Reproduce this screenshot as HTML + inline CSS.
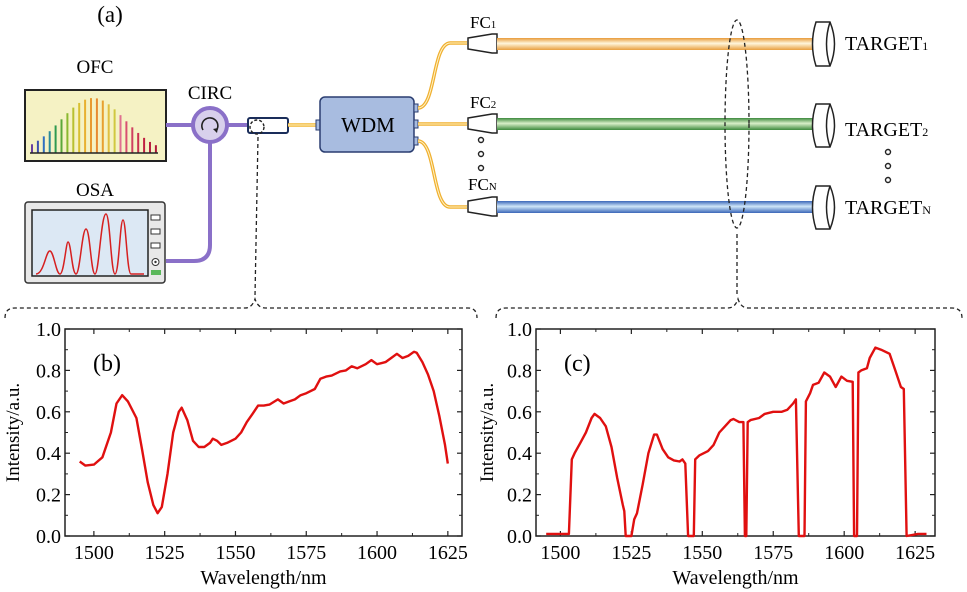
<!DOCTYPE html>
<html><head><meta charset="utf-8"><style>
html,body{margin:0;padding:0;background:#fff}
svg{display:block;font-family:"Liberation Serif",serif}
</style></head><body>
<svg id="fig" width="967" height="592" viewBox="0 0 967 592">
<defs>
<linearGradient id="gOr" x1="0" y1="0" x2="0" y2="1"><stop offset="0" stop-color="#e89a3a"/><stop offset=".45" stop-color="#fff6dc"/><stop offset="1" stop-color="#e8a040"/></linearGradient>
<linearGradient id="gGr" x1="0" y1="0" x2="0" y2="1"><stop offset="0" stop-color="#3d8a3d"/><stop offset=".45" stop-color="#d8efc8"/><stop offset="1" stop-color="#3d8a3d"/></linearGradient>
<linearGradient id="gBl" x1="0" y1="0" x2="0" y2="1"><stop offset="0" stop-color="#3a66b8"/><stop offset=".45" stop-color="#cfe6f8"/><stop offset="1" stop-color="#3a66b8"/></linearGradient>
</defs>
<g>
<text x="110" y="22" font-size="23" text-anchor="middle">(a)</text>
<text x="95" y="73" font-size="19" text-anchor="middle">OFC</text>
<rect x="25" y="90" width="141" height="71" fill="#f5f2c4" stroke="#222" stroke-width="2"/>
<g id="comb"></g>
<line x1="30" y1="153" x2="158" y2="153" stroke="#222" stroke-width="1.5"/>
<text x="95" y="196" font-size="19" text-anchor="middle">OSA</text>
<rect x="25" y="202" width="140" height="81" rx="3" fill="#e8e8e8" stroke="#333" stroke-width="1.5"/>
<rect x="32" y="210" width="116" height="66" fill="#dce8f4" stroke="#222" stroke-width="1.5"/>
<path d="M36,274 C44,274 46,250 50,251 C54,252 56,274 60,274 C64,274 66,242 68,242 C71,242 72,274 76,274 C80,274 82,229 86,229 C90,229 91,274 95,274 C99,274 101,214 106,214 C110,214 111,274 115,274 C119,274 120,220 123,220 C126,220 127,274 131,274 L144,274" fill="none" stroke="#d62020" stroke-width="1.5"/>
<rect x="151" y="215" width="9" height="5" fill="#fff" stroke="#333"/><rect x="151" y="229" width="9" height="5" fill="#fff" stroke="#333"/><rect x="151" y="243" width="9" height="5" fill="#fff" stroke="#333"/>
<circle cx="155.5" cy="262" r="3.5" fill="#fff" stroke="#333"/><circle cx="155.5" cy="262" r="1.2" fill="#333"/>
<rect x="151" y="270" width="10" height="5" fill="#5cb85c"/>
<text x="210" y="99" font-size="19" text-anchor="middle">CIRC</text>
<path d="M166,125 L193,125 M227,125 L248,125 M210,142 L210,245 Q210,261 194,261 L166,261" fill="none" stroke="#8a70c8" stroke-width="4"/>
<circle cx="210" cy="125" r="17" fill="#d8d0ec" stroke="#8a70c8" stroke-width="4"/>
<path d="M203,130 A8,8 0 1 1 216,131" fill="none" stroke="#222" stroke-width="1.6"/><path d="M213,129 L217,133 L218,128Z" fill="#222"/>
<rect x="248" y="118" width="40" height="15" rx="2" fill="#fff" stroke="#1a2d5a" stroke-width="2"/>
<ellipse cx="257" cy="127" rx="7" ry="7" fill="none" stroke="#222" stroke-width="1.4" stroke-dasharray="3,2"/>
<path d="M288,125 L316,125" stroke="#f2b632" stroke-width="3.5"/><path d="M288,125 L316,125" stroke="#fff5d0" stroke-width="1"/>
<rect x="316" y="120" width="5" height="10" fill="#a8bce0" stroke="#2a3d70"/>
<rect x="320" y="97" width="94" height="55" rx="5" fill="#a8bce0" stroke="#2a3d70" stroke-width="1.5"/>
<text x="368" y="132" font-size="21" text-anchor="middle">WDM</text>
<rect x="414" y="104" width="4" height="8" fill="#a8bce0" stroke="#2a3d70"/><rect x="414" y="120" width="4" height="8" fill="#a8bce0" stroke="#2a3d70"/><rect x="414" y="137" width="4" height="8" fill="#a8bce0" stroke="#2a3d70"/>
<g fill="none">
<path d="M418,108 C436,108 432,44 450,43 L467,43 M418,124 L467,124 M418,141 C436,141 432,207 450,207 L467,207" stroke="#f0b030" stroke-width="3.5"/>
<path d="M418,108 C436,108 432,44 450,43 L467,43 M418,124 L467,124 M418,141 C436,141 432,207 450,207 L467,207" stroke="#fff3c8" stroke-width="1"/>
</g>
<g stroke="#222" stroke-width="1.5" fill="#fff">
<path d="M468,38 L492,34 L497,34 L497,53 L492,53 L468,49Z"/><path d="M468,118 L492,114 L497,114 L497,133 L492,133 L468,129Z"/><path d="M468,201 L492,197 L497,197 L497,216 L492,216 L468,212Z"/>
</g>
<rect x="497" y="38" width="323" height="12" fill="url(#gOr)"/>
<rect x="497" y="118" width="323" height="12" fill="url(#gGr)"/>
<rect x="497" y="201" width="323" height="12" fill="url(#gBl)"/>
<g font-size="17">
<text x="470" y="28">FC<tspan font-size="11">1</tspan></text>
<text x="470" y="108">FC<tspan font-size="11">2</tspan></text>
<text x="468" y="190">FC<tspan font-size="11">N</tspan></text>
</g>
<g fill="#fff" stroke="#222" stroke-width="1.4"><circle cx="481" cy="140" r="2.5"/><circle cx="481" cy="154" r="2.5"/><circle cx="481" cy="168" r="2.5"/>
<circle cx="888" cy="152" r="2.5"/><circle cx="888" cy="166" r="2.5"/><circle cx="888" cy="180" r="2.5"/></g>
<g fill="#fff" stroke="#222" stroke-width="1.5">
<path d="M816,22 L830,22 Q839,44 830,66 L816,66 Q809,44 816,22Z"/><path d="M830,22 Q823,44 830,66"/>
<path d="M816,104 L830,104 Q839,125 830,147 L816,147 Q809,125 816,104Z"/><path d="M830,104 Q823,125 830,147"/>
<path d="M816,186 L830,186 Q839,207 830,229 L816,229 Q809,207 816,186Z"/><path d="M830,186 Q823,207 830,229"/>
</g>
<g font-size="20">
<text x="845" y="50">TARGET<tspan font-size="12">1</tspan></text>
<text x="845" y="136">TARGET<tspan font-size="12">2</tspan></text>
<text x="845" y="214">TARGET<tspan font-size="12">N</tspan></text>
</g>
<g fill="none" stroke="#222" stroke-width="1.3" stroke-dasharray="4,3">
<ellipse cx="737" cy="124" rx="12" ry="104"/>
<path d="M737,234 L737,296"/><path d="M258,137 L255,296"/>
<path d="M5,318 Q5,308 15,308 L245,308 Q252,308 255,299 Q258,308 265,308 L468,308 Q477,308 477,318"/>
<path d="M496,318 Q496,308 506,308 L728,308 Q735,308 738,299 Q741,308 748,308 L952,308 Q962,308 962,318"/>
</g>
</g>
<g id="chartB"></g>
<g id="chartC"></g>
</svg>
<script>
const NS="http://www.w3.org/2000/svg";
function mk(parent,tag,attrs,text){const e=document.createElementNS(NS,tag);for(const k in attrs)e.setAttribute(k,attrs[k]);if(text!==undefined)e.textContent=text;parent.appendChild(e);return e;}
(function(){const g=document.getElementById('comb');const cols=['#6a3fa0','#3d4fb0','#2f6fc0','#2a8a9a','#2f9a50','#5aa83a','#8ab830','#b8c030','#d8c030','#e8b030','#e89a30','#e88a30','#e8a030','#e0c040','#d0c840','#e07090','#d85070','#d04060','#c83050','#c02040','#b82040','#b01838'];
for(let i=0;i<22;i++){const x=32+i*5.9;const h=55*Math.exp(-Math.pow((x-93)/45,2));mk(g,'line',{x1:x,y1:153,x2:x,y2:153-h,stroke:cols[i],'stroke-width':2});}})();

const xTicks=[1500,1525,1550,1575,1600,1625];
const yTicks=[0,0.2,0.4,0.6,0.8,1.0];
const yTickLabels=['0.0','0.2','0.4','0.6','0.8','1.0'];
const bWavelength=[1495,1497,1500,1503,1506,1508,1510,1512,1515,1517,1519,1521,1522.5,1524,1526,1528,1530,1531,1533,1535,1537,1539,1541,1542,1543.5,1545,1547,1550,1552,1554,1556,1558,1560,1562,1565,1567,1569,1571,1573,1575,1578,1580,1582,1584,1587,1589,1591,1593,1596,1598,1600,1603,1605,1607,1609,1611,1613,1614,1616,1618,1620,1622,1624,1625];
const bIntensity=[0.36,0.34,0.345,0.38,0.5,0.64,0.68,0.65,0.57,0.42,0.26,0.15,0.11,0.14,0.3,0.5,0.6,0.62,0.56,0.46,0.43,0.43,0.45,0.47,0.46,0.44,0.45,0.47,0.5,0.55,0.59,0.63,0.63,0.635,0.66,0.64,0.65,0.66,0.68,0.69,0.71,0.76,0.77,0.775,0.795,0.8,0.82,0.81,0.83,0.85,0.83,0.84,0.86,0.88,0.86,0.87,0.89,0.885,0.84,0.78,0.7,0.58,0.44,0.35];
const cWavelength=[1495,1503,1504,1505,1507,1509,1511,1512,1514,1516,1518,1520,1522,1522.5,1523,1525,1526,1527,1529,1531,1533,1534,1536,1538,1540,1542,1543,1544,1545,1547,1547.5,1549,1552,1554,1556,1558,1560,1561,1563,1564.5,1565,1565.5,1566,1567,1570,1572,1575,1578,1580,1582,1583,1584,1586,1586.5,1588,1589,1591,1593,1595,1597,1599,1601,1603,1603.5,1604.5,1605,1606,1608,1609,1611,1613,1616,1618,1620,1621,1622,1626,1629];
const cIntensity=[0.01,0.01,0.37,0.4,0.45,0.5,0.57,0.59,0.57,0.53,0.43,0.28,0.15,0.12,0.0,0.0,0.08,0.11,0.25,0.4,0.49,0.49,0.42,0.38,0.365,0.36,0.37,0.35,0.0,0.0,0.37,0.39,0.41,0.44,0.5,0.53,0.56,0.565,0.55,0.55,0.0,0.0,0.55,0.56,0.57,0.59,0.6,0.6,0.61,0.64,0.66,0.0,0.0,0.65,0.69,0.73,0.74,0.79,0.77,0.72,0.77,0.75,0.745,0.0,0.0,0.79,0.8,0.81,0.86,0.91,0.9,0.88,0.8,0.72,0.71,0.0,0.01,0.01];

function chart(id,L,R,T,B,x0,x1,xs,ys,label,titleX){
  const g=document.getElementById(id);
  const sx=v=>L+(v-x0)/(x1-x0)*(R-L), sy=v=>B-v*(B-T);
  const f=mk(g,'rect',{x:L,y:T,width:R-L,height:B-T,fill:'none',stroke:'#222','stroke-width':1.5});
  
  xTicks.forEach((t,i)=>{const x=sx(t);
    mk(g,'line',{x1:x,y1:B,x2:x,y2:B-5,stroke:'#222','stroke-width':1.2});
    mk(g,'line',{x1:x,y1:T,x2:x,y2:T+5,stroke:'#222','stroke-width':1.2});
    const m=sx(t+12.5); if(m<R){mk(g,'line',{x1:m,y1:B,x2:m,y2:B-3,stroke:'#222'});mk(g,'line',{x1:m,y1:T,x2:m,y2:T+3,stroke:'#222'});}
    const tl=mk(g,'text',{x:x,y:B+23,'font-size':20,'text-anchor':'middle'},String(t));
    });
  yTicks.forEach((t,i)=>{const y=sy(t);
    mk(g,'line',{x1:L,y1:y,x2:L+5,y2:y,stroke:'#222','stroke-width':1.2});
    mk(g,'line',{x1:R,y1:y,x2:R-5,y2:y,stroke:'#222','stroke-width':1.2});
    if(i<5){const m=sy(t+0.1);mk(g,'line',{x1:L,y1:m,x2:L+3,y2:m,stroke:'#222'});mk(g,'line',{x1:R,y1:m,x2:R-3,y2:m,stroke:'#222'});}
    const tl=mk(g,'text',{x:L-4,y:y+7,'font-size':20,'text-anchor':'end'},yTickLabels[i]);
    });
  const xt=mk(g,'text',{x:(L+R)/2,y:B+48,'font-size':20,'text-anchor':'middle'},'Wavelength/nm');
  
  const yt=mk(g,'text',{x:0,y:0,'font-size':19,'text-anchor':'middle',transform:`translate(${titleX},${(T+B)/2}) rotate(-90)`},'Intensity/a.u.');
  
  const pl=mk(g,'text',{x:L+28,y:T+42,'font-size':24},label);
  
  const d=xs.map((v,i)=>(i?'L':'M')+sx(v).toFixed(1)+','+sy(ys[i]).toFixed(1)).join(' ');
  const p=mk(g,'path',{d:d,fill:'none',stroke:'#e01010','stroke-width':2.4,'stroke-linejoin':'round'});
  
}
chart('chartB',65,462,329,536,1489.8,1630,bWavelength,bIntensity,'(b)',19);
chart('chartC',536,935,329,536,1491.4,1632,cWavelength,cIntensity,'(c)',493);
</script>
</body></html>
